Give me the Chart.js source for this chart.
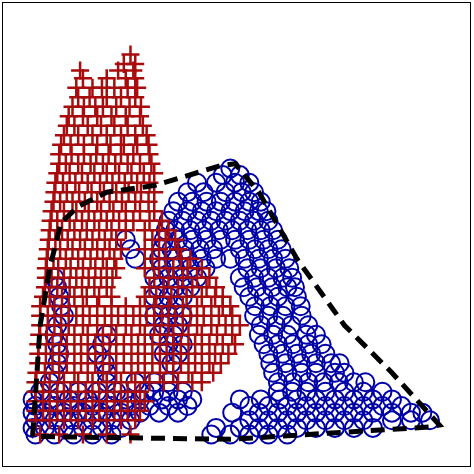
<!DOCTYPE html>
<html><head><meta charset="utf-8">
<script src="https://cdn.jsdelivr.net/npm/chart.js@4"></script>
<style>html,body{margin:0;padding:0;background:#fff}
#box{position:absolute;left:2px;top:2px;width:467px;height:463px;border:1px solid #000}
</style></head><body>
<div id="box"><canvas id="c" width="467" height="463"></canvas></div>
<script>
// values read in plot-pixel units
const redRows = [
 [45,[125]],[55,[118,130]],[62,[72,112,128]],[70,[75,100,120,130]],[80,[68,85,95,108,122,132]],
 [90,[70,82,100,115,130]],[100,[64,76,88,96,110,124,136]],
 [110,[60,75,90,105,120,135]],[120,[58,66,80,94,108,122,138]],[130,[55,70,85,100,115,130,142]],
 [140,[52,62,76,90,104,118,132,144]],
 [150,[50,63,76,89,102,115,128,145]],[160,[50,57,70,83,96,109,122,135,147]],[170,[48,61,74,87,100,113,126,139,150]],
 [180,[46,54,67,80,93,106,119,132,145]],
 [190,[45,58,71,84,97,110,123,136,150]],[200,[44,51,64,77,90,103,116,130,144]],[210,[42,55,68,81,94,107,120,135,150]],
 [220,[41,48,61,74,87,100,113,128,145,158]],
 [230,[40,53,66,79,92,105,120,140,155,165]],[240,[39,46,59,72,85,98,110,148,162,172]],[250,[38,51,64,77,90,103,115,140,155,175]],
 [260,[37,44,57,70,83,96,108,148,162,178,188]],
 [270,[36,49,62,75,88,100,110,140,155,170,185,200]],[280,[36,42,55,68,81,94,106,150,165,180,195,208]],
 [290,[35,48,61,74,87,100,145,160,175,190,205,215]],[300,[33,40,53,66,79,92,105,140,152,168,184,200,214,222]],
 [310,[30,45,60,75,90,105,120,135,150,165,180,195,210,222,230]],
 [320,[30,38,52,68,82,98,112,128,142,158,172,188,202,218,232]],
 [330,[30,45,60,75,90,105,120,135,150,165,180,195,210,225,240]],
 [340,[29,37,52,66,80,96,110,126,140,156,170,186,200,216,232]],
 [350,[28,43,58,73,88,103,118,133,148,163,178,193,208,222,235]],
 [360,[28,36,50,66,80,96,110,126,140,156,170,186,200,214,228]],
 [370,[28,43,58,73,88,103,118,133,148,163,178,193,208,220]],
 [380,[26,35,50,66,80,96,110,126,140,156,170,186,200,212]],
 [390,[25,40,55,70,85,100,115,130,145,160,175,190,200]],[400,[25,33,48,62,78,92,108,122,135]],
 [410,[25,40,55,70,85,100,115,130,140]],[420,[25,33,48,62,78,92,108,122,135]],[430,[25,40,55,70,85,100,115,130]],[445,[30,50,75,100,125]]
];
const blueRows = [
 [165,[230]],[172,[222,240]],[180,[195,215,235,250]],[190,[185,202,225,242,255]],[200,[175,190,205,220,235,250,262]],
 [210,[170,185,200,215,230,245,260,268]],
 [220,[165,180,195,210,225,240,255,270]],[230,[162,172,188,202,218,232,248,262,275]],[240,[120,160,175,190,205,220,235,250,265,280]],
 [250,[125,158,168,182,198,212,240,256,270,284]],
 [260,[130,155,170,185,200,215,230,245,260,275,288]],[270,[158,172,188,204,248,262,278,292]],
 [280,[45,150,165,180,195,240,255,270,285,295]],[290,[48,155,172,188,244,258,274,290,298]],[300,[50,150,165,180,250,265,280,300]],
 [310,[52,158,172,256,272,288,304]],
 [320,[55,150,165,180,255,270,285,305]],[330,[48,160,175,262,278,294,312]],[340,[45,100,155,170,260,275,290,310,320]],
 [350,[48,95,165,180,265,280,296,312,326]],
 [360,[50,90,160,175,270,285,300,315,330]],[370,[48,98,168,272,288,304,320,336,345]],[380,[45,100,275,290,305,320,340,350]],
 [390,[40,100,130,150,165,280,296,312,328,344,360,372]],
 [400,[30,50,70,90,110,140,150,165,180,280,295,310,330,350,370,390]],
 [408,[22,40,60,80,100,120,135,158,175,190,240,262,282,300,320,340,360,380,400]],
 [415,[25,45,65,85,105,125,145,165,185,250,270,290,310,330,350,370,390,410]],
 [422,[22,35,55,75,95,115,135,155,175,232,260,280,300,320,340,360,380,400,420,432]],
 [430,[25,45,65,85,105,125,250,270,290,310,330,350,370,400,420,440]],
 [438,[22,35,55,75,95,115,215,240,260,280,300,320,340,360,380]],
 [445,[25,45,65,85,105,210,230,250,270,290]]
];
const hullX = [22,30,40,52,70,100,150,220,235,260,300,350,400,450,440,230,22];
const hullY = [447,330,270,222,205,190,183,162,160,190,260,330,380,435,437,450,447];

const toPts = rows => rows.flatMap(([y,xs]) => xs.map(x => ({x, y})));
new Chart(document.getElementById('c'), {
 type:'scatter',
 data:{datasets:[
  {data:hullX.map((x,i)=>({x,y:hullY[i]})),showLine:true,borderColor:'#000',borderWidth:5,borderDash:[14,8],pointRadius:0,fill:false,order:0},
  {data:toPts(redRows),pointStyle:'cross',pointRadius:9,borderColor:'#a80c0c',borderWidth:2.5,order:1},
  {data:toPts(blueRows),pointStyle:'circle',pointRadius:9,borderColor:'#0000a8',backgroundColor:'rgba(0,0,0,0)',borderWidth:2,order:2}
 ]},
 options:{responsive:false,animation:false,plugins:{legend:{display:false},tooltip:{enabled:false}},
  layout:{padding:0},
  scales:{x:{type:'linear',min:3,max:470,display:false},y:{min:3,max:466,reverse:true,display:false}}}
});
</script></body></html>
